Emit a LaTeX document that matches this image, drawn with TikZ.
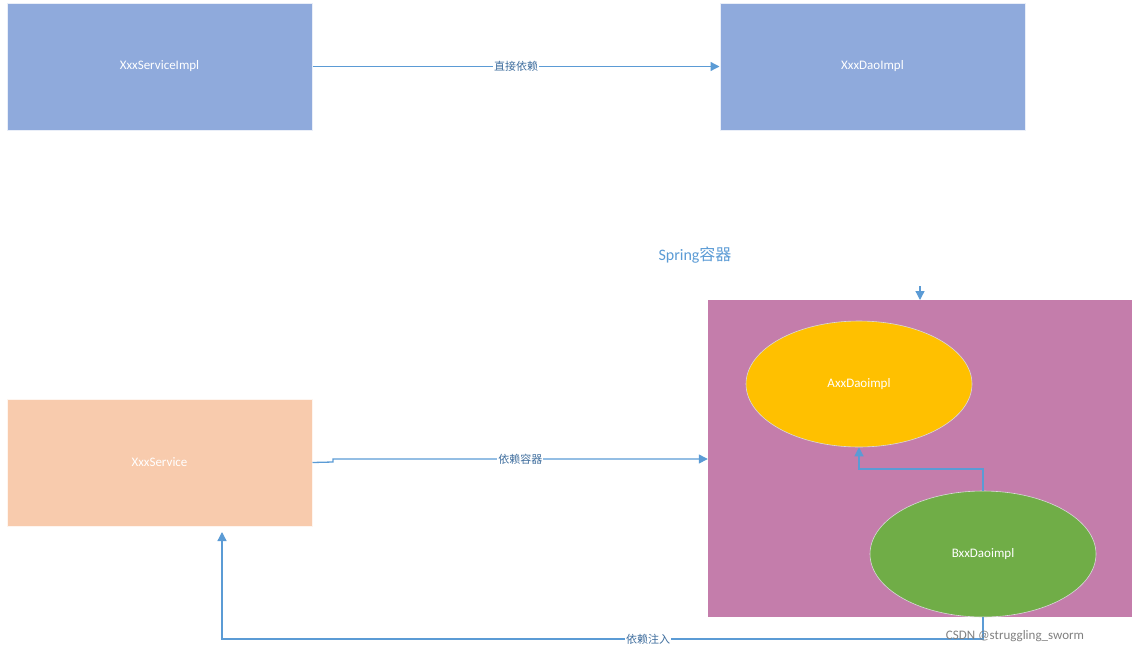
\documentclass[tikz,border=0pt]{standalone}
\usepackage{fontspec}
\setmainfont{Carlito}
\newfontfamily\cjk{Noto Sans CJK SC}
\usetikzlibrary{arrows.meta,shapes.geometric}
\definecolor{boxblue}{HTML}{8FAADC}
\definecolor{peach}{HTML}{F8CBAD}
\definecolor{cont}{HTML}{C47DAB}
\definecolor{orng}{HTML}{FFC000}
\definecolor{grn}{HTML}{70AD47}
\definecolor{ln}{HTML}{5B9BD5}
\definecolor{lbl}{HTML}{3F6E9E}
\tikzset{
 bx/.style={draw=white!80!boxblue,line width=1pt,minimum width=305pt,minimum height=127pt,text=white,font=\fontsize{13}{15}\selectfont,inner sep=0},
 el/.style={ellipse,draw=white!70!gray,line width=0.6pt,minimum width=226pt,minimum height=126pt,text=white,font=\fontsize{13}{15}\selectfont},
 conn/.style={draw=ln,line width=1.3pt,-{Triangle[length=9pt,width=9pt]}},
 lab/.style={fill=white,text=lbl,font=\cjk\fontsize{11}{13}\selectfont,inner sep=1pt}
}
\begin{document}
\begin{tikzpicture}[x=1pt,y=-1pt]
\useasboundingbox (0,0) rectangle (1141,656);
\node[bx,fill=boxblue] (si) at (159.5,66.5) {XxxServiceImpl};
\node[bx,fill=boxblue] (di) at (872.5,66.5) {XxxDaoImpl};
\node[bx,fill=peach,draw=white!80!peach] (s) at (159.5,462.5) {XxxService};
\node[draw=none,fill=cont,minimum width=424pt,minimum height=317pt,inner sep=0] (c) at (920,458.5) {};
\node[el,fill=orng] (a) at (859,384) {AxxDaoimpl};
\node[el,fill=grn] (b) at (983,554) {BxxDaoimpl};
\node[text=ln,font=\fontsize{16}{19}\selectfont,anchor=center] (sp) at (695,255) {Spring{\cjk 容器}};
\coordinate (tp) at (920,286);
\draw[conn] (tp) -- (920,300);
\draw[conn] (si.east) -- node[lab]{直接依赖} (di.west);
\draw[conn] (s.east) -- (333,462) -- (333,459) -- node[lab]{依赖容器} (c.west|-0,459);
\draw[conn] (b.north) -- (983,469) -- (859,469) -- (a.south);
\draw[conn] (b.south) -- (983,639) -- node[lab,pos=0.44]{依赖注入} (222,639) -- (222,532);
\node[text=gray,font=\fontsize{13}{15}\selectfont] (wm) at (1015,636) {CSDN @struggling\_sworm};
\end{tikzpicture}
\end{document}
